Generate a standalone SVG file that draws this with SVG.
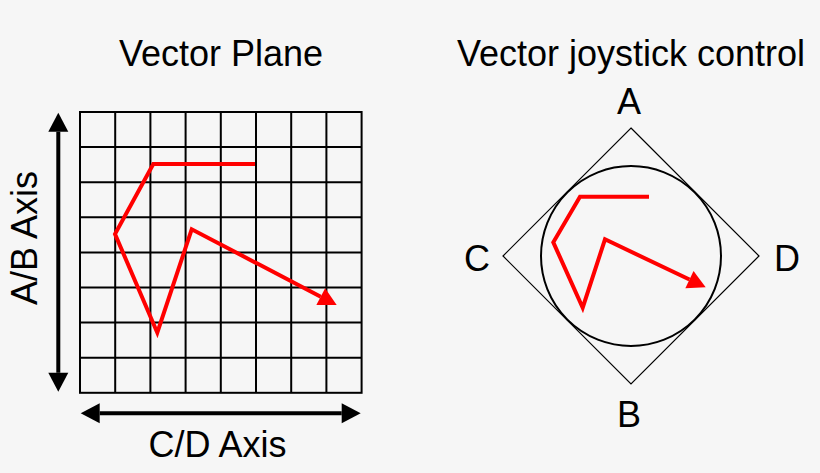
<svg xmlns="http://www.w3.org/2000/svg" width="820" height="473" viewBox="0 0 820 473">
<style>
.t{font-family:"Liberation Sans",Arial,sans-serif;font-size:36px;fill:#000;text-anchor:middle}
.grid{stroke:#000;stroke-width:2;fill:none}
.axis{stroke:#000;stroke-width:4;fill:none}
.red{stroke:#f00;stroke-width:4;fill:none;stroke-linejoin:miter}
</style>
<defs>
<marker id="redHead" markerUnits="userSpaceOnUse" markerWidth="18" markerHeight="19" refX="0" refY="9.5" orient="auto" overflow="visible">
<path d="M0,0 L18,9.5 L0,19 Z" fill="#f00"/>
</marker>
<marker id="blackHead" markerUnits="userSpaceOnUse" markerWidth="19" markerHeight="20" refX="0" refY="10" orient="auto-start-reverse" overflow="visible">
<path d="M0,0 L19,10 L0,20 Z" fill="#000"/>
</marker>
</defs>
<rect width="820" height="473" fill="#f6f6f6"/>
<text class="t" x="221" y="66">Vector Plane</text>
<text class="t" x="631" y="66">Vector joystick control</text>
<g id="grid">
<rect class="grid" x="80" y="112" width="281.6" height="280.8"/>
<path class="grid" d="M115.2,112V392.8M150.4,112V392.8M185.6,112V392.8M220.8,112V392.8M256,112V392.8M291.2,112V392.8M326.4,112V392.8M80,147.1H361.6M80,182.2H361.6M80,217.3H361.6M80,252.4H361.6M80,287.5H361.6M80,322.6H361.6M80,357.7H361.6"/>
</g>
<g id="axes">
<line class="axis" x1="58.3" y1="131.7" x2="58.3" y2="372.7" marker-start="url(#blackHead)" marker-end="url(#blackHead)"/>
<line class="axis" x1="99.7" y1="413.3" x2="341.7" y2="413.3" marker-start="url(#blackHead)" marker-end="url(#blackHead)"/>
</g>
<text class="t" x="217.5" y="457">C/D Axis</text>
<text class="t" transform="translate(36.7,238) rotate(-90)" x="0" y="0">A/B Axis</text>
<g id="plane-path">
<polyline class="red" points="255,164 153.3,164 115,234 157.3,332.7 191.7,229.3 320.75,296.7" marker-end="url(#redHead)"/>
</g>
<g id="joystick">
<polygon points="631,128 759,256 631,384 503,256" fill="none" stroke="#000" stroke-width="1.2"/>
<circle cx="631" cy="256" r="90" fill="none" stroke="#000" stroke-width="2"/>
</g>
<text class="t" x="629" y="114">A</text>
<text class="t" x="629" y="427">B</text>
<text class="t" x="477" y="271">C</text>
<text class="t" x="787" y="271">D</text>
<g id="joystick-path">
<polyline class="red" points="649,196.7 580,196.7 553.3,242.3 582.7,307.7 605,239.3 689.45,279.56" marker-end="url(#redHead)"/>
</g>
</svg>
